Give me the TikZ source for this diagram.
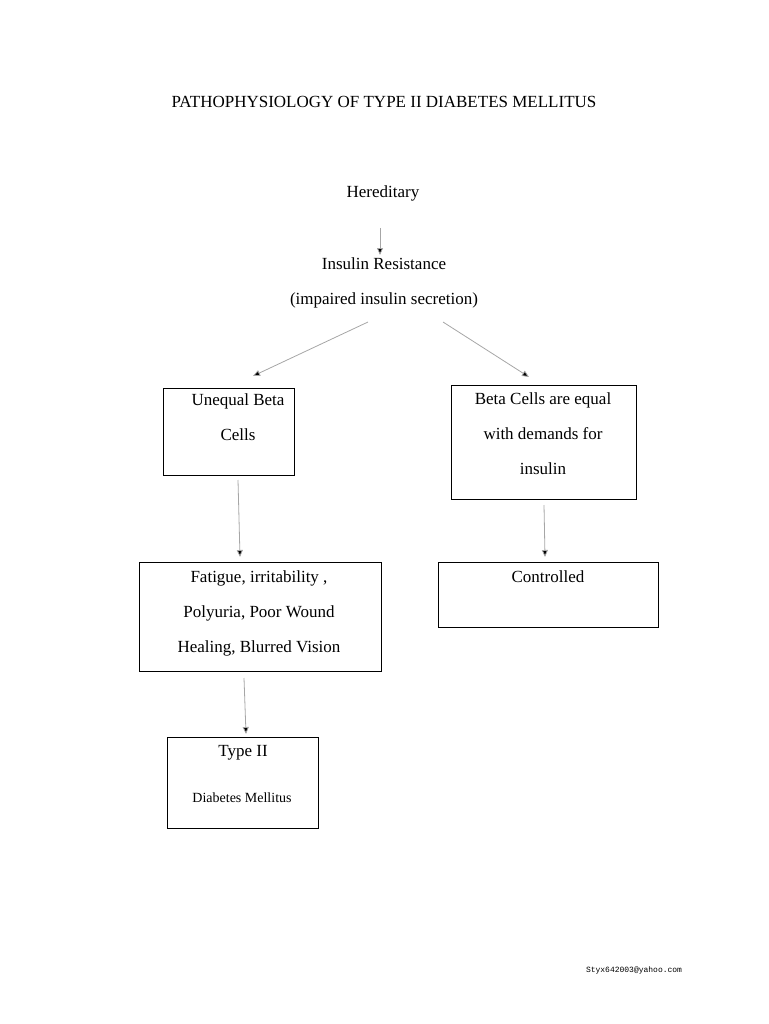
\documentclass[tikz,border=0pt]{standalone}
\usepackage{fontspec}
\setmainfont{Liberation Serif}
\setmonofont{Liberation Mono}
\usetikzlibrary{arrows.meta, positioning}
\tikzset{
  box/.style={draw, line width=0.9pt, inner sep=0pt},
  txt/.style={align=center, font=\fontsize{17}{35}\selectfont, inner sep=0pt, anchor=north},
  link/.style={draw=gray!70, line width=0.8pt, -{Triangle[length=7pt,width=6pt,fill=black]}}
}
\begin{document}
\begin{tikzpicture}[x=1pt,y=-1pt]
    \useasboundingbox (0,0) rectangle (768,1024);

    % Title and top texts
    \node[txt] (title) at (384,96) {PATHOPHYSIOLOGY OF TYPE II DIABETES MELLITUS};
    \node[txt] (hered) at (383,186) {Hereditary};
    \node[txt] (resist) at (384,258) {Insulin Resistance\\(impaired insulin secretion)};

    % Boxes
    \node[box, minimum width=131pt, minimum height=87pt] (unequal) at (228.5,431.5) {};
    \node[txt] at (238,394) {Unequal Beta\\Cells};
    \node[box, minimum width=185pt, minimum height=114pt] (equal) at (543.5,442) {};
    \node[txt] at (543,393) {Beta Cells are equal\\with demands for\\insulin};
    \node[box, minimum width=242pt, minimum height=109pt] (signs) at (260,616.5) {};
    \node[txt] at (259,570) {Fatigue, irritability ,\\Polyuria, Poor Wound\\Healing, Blurred Vision};
    \node[box, minimum width=220pt, minimum height=65pt] (control) at (548,594.5) {};
    \node[txt] at (548,570) {Controlled};
    \node[box, minimum width=151pt, minimum height=91pt] (type) at (242.5,782.5) {};
    \node[txt] at (243,745) {Type II};
    \node[txt, font=\fontsize{14}{20}\selectfont] at (242,793) {Diabetes Mellitus};

    % Arrow ends
    \coordinate (a1) at (380,228); \coordinate (b1) at (380,255);
    \coordinate (a2) at (368,322); \coordinate (b2) at (253,376);
    \coordinate (a3) at (443,322); \coordinate (b3) at (529,377);
    \coordinate (a4) at (238,480); \coordinate (b4) at (240,557);
    \coordinate (a5) at (544,505); \coordinate (b5) at (545,557);
    \coordinate (a6) at (244,678); \coordinate (b6) at (246,734);
    \foreach \i in {1,...,6} \draw[link] (a\i) -- (b\i);

    \node[font=\ttfamily\fontsize{8}{10}\selectfont] (mail) at (634,970) {Styx642003@yahoo.com};
\end{tikzpicture}
\end{document}
